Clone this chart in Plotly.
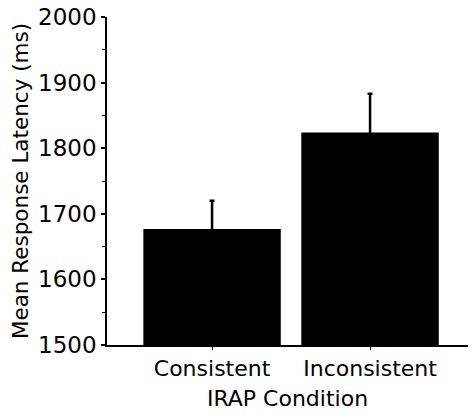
import plotly.graph_objects as go

categories = ["Consistent", "Inconsistent"]
means = [1677, 1824]
errors = [43, 59]
y_ticks = [1500, 1600, 1700, 1800, 1900, 2000]

FONT = "DejaVu Sans"

fig = go.Figure()
fig.add_trace(go.Bar(
    x=categories,
    y=[m - 1500 for m in means],
    base=1500,
    width=0.87,
    marker=dict(color="black", line=dict(width=0)),
    error_y=dict(type="data", symmetric=True, array=errors,
                 color="black", thickness=2.5, width=2.5),
    showlegend=False,
))

fig.update_layout(
    width=474, height=418,
    margin=dict(l=107, r=6, t=17, b=73),
    paper_bgcolor="white", plot_bgcolor="white",
    font=dict(family=FONT, size=22, color="black"),
)
fig.update_xaxes(
    range=[-0.665, 1.62],
    automargin=False,
    showline=True, linecolor="black", linewidth=1.5,
    ticks="outside", ticklen=3, tickwidth=1, tickcolor="black",
    tickfont=dict(size=22),
    title=dict(text="IRAP Condition", font=dict(size=22), standoff=10),
    showgrid=False, zeroline=False,
)
fig.update_yaxes(
    range=[1500, 2000],
    automargin=False,
    tickvals=y_ticks,
    showline=True, linecolor="black", linewidth=1.5,
    ticks="outside", ticklen=4, tickwidth=1.5, tickcolor="black",
    minor=dict(dtick=50, ticks="outside", ticklen=3, tickwidth=1, tickcolor="black"),
    tickfont=dict(size=23),
    title=dict(text="Mean Response Latency (ms)", font=dict(size=21.5), standoff=4),
    showgrid=False, zeroline=False,
)

fig.write_html("out.html", config={"displayModeBar": False},
               post_script="document.body.style.margin='0';")
